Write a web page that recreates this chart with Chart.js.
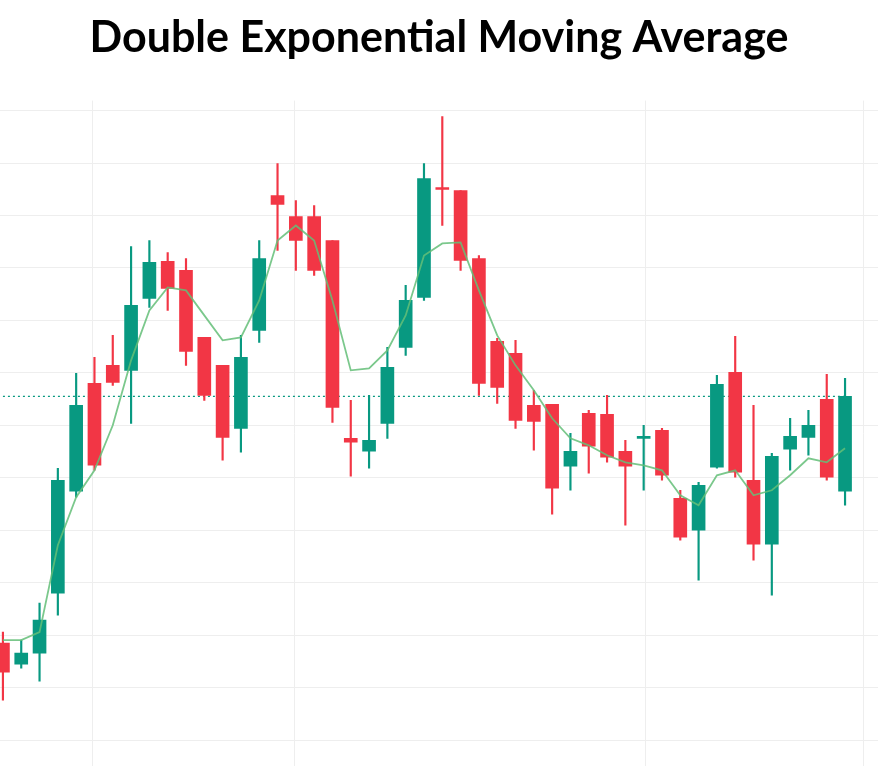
<!DOCTYPE html>
<html><head><meta charset="utf-8">
<script src="https://cdn.jsdelivr.net/npm/chart.js@4/dist/chart.umd.min.js"></script>
<style>html,body{margin:0;padding:0;background:#fff}canvas{display:block}</style>
</head><body>
<canvas id="c" width="878" height="766"></canvas>
<script>
const openP  = [15.7,13.6,14.7,20.7,30.9,41.7,43.5,43.0,50.2,53.9,53.0,46.3,43.5,37.2,47.0,60.5,58.4,58.4,56.0,36.2,34.9,37.7,45.3,50.3,61.3,61.0,54.2,45.9,44.7,39.5,39.6,33.4,38.7,38.6,34.9,36.2,37.0,30.2,27.0,33.3,42.8,32.0,25.6,35.1,36.3,40.1,30.9];
const highP  = [16.8,16.0,19.7,33.2,42.7,44.3,46.5,55.4,56.0,54.8,54.2,46.3,43.5,46.5,56.0,63.7,60.0,59.5,56.0,40.0,40.5,45.3,51.5,63.7,68.4,61.0,54.5,46.2,46.0,41.0,39.6,36.7,39.0,40.5,36.0,37.5,37.2,31.0,31.8,42.5,46.4,39.5,34.7,38.2,39.0,42.6,42.2];
const lowP   = [10.0,13.2,11.9,18.5,30.3,33.0,41.5,37.7,49.3,49.0,43.5,40.0,34.0,34.8,45.8,55.0,53.0,52.5,37.8,32.4,33.2,36.2,44.5,50.0,57.5,53.0,40.5,39.7,37.2,35.0,28.6,31.0,32.7,33.8,27.5,31.0,32.0,26.0,22.0,33.2,32.3,24.0,20.5,33.0,34.5,32.0,29.5];
const closeP = [12.8,14.7,18.0,32.0,39.5,33.5,41.8,49.5,53.8,51.2,44.9,40.5,36.3,44.3,54.2,59.6,56.0,53.0,39.3,35.8,36.0,43.3,50.0,62.2,61.1,54.0,41.7,41.3,38.0,37.9,31.2,34.9,35.4,34.3,33.4,36.4,32.5,26.3,31.5,41.6,32.8,25.6,34.4,36.4,37.5,32.3,40.4];
const demaP  = [16.0,16.0,16.8,25.5,30.3,33.0,37.5,44.0,49.0,51.3,51.0,48.5,46.0,46.3,50.0,56.0,57.5,56.0,50.0,43.0,43.2,45.0,48.5,54.5,55.7,55.8,51.0,46.5,43.5,41.0,38.2,36.2,35.5,34.5,33.8,33.5,33.0,30.5,29.5,32.5,33.0,30.5,31.0,32.5,34.2,33.8,35.2];
const lastPrice = 40.4;
const vGridAt = [4.9,15.95,35.1,47];
const GREEN='#089981', RED='#F23645';
const cols = openP.map((o,i)=> closeP[i]>=o?GREEN:RED);
const idx = openP.map((_,i)=>i);
new Chart(document.getElementById('c'),{
  data:{datasets:[
    {type:'line',data:idx.map(i=>({x:i,y:lastPrice})),borderColor:GREEN,borderWidth:1.2,borderDash:[2,3],pointRadius:0,order:3},
    {type:'bar',data:idx.map(i=>({x:i,y:[lowP[i],highP[i]]})),backgroundColor:cols,barThickness:1.5,grouped:false,order:2},
    {type:'bar',data:idx.map(i=>({x:i,y:[openP[i],closeP[i]]})),backgroundColor:cols,barThickness:13,minBarLength:2,grouped:false,order:1},
    {type:'line',data:idx.map(i=>({x:i,y:demaP[i]})),borderColor:'rgba(100,190,120,0.85)',borderWidth:1.8,pointRadius:0,tension:0,order:0}
  ]},
  options:{responsive:false,animation:false,
    layout:{padding:{left:0,right:0,top:0,bottom:0}},
    plugins:{legend:{display:false},tooltip:{enabled:false},
      title:{display:true,text:'Double Exponential Moving Average',color:'#000',font:{family:'Lato',size:43,weight:'bold'},padding:{top:12,bottom:37}}},
    scales:{
      x:{type:'linear',min:-0.16,max:47.8,offset:false,
        afterBuildTicks:a=>{a.ticks=vGridAt.map(v=>({value:v}));},
        ticks:{display:false,autoSkip:false},grid:{color:'#eeeeee',drawTicks:false,offset:false},border:{display:false}},
      y:{min:3.4,max:70,
        afterBuildTicks:a=>{const t=[];for(let k=0;k<13;k++)t.push({value:6+5.25*k});a.ticks=t;},
        ticks:{display:false},grid:{color:'#eeeeee',drawTicks:false},border:{display:false}}
    }}
});
</script></body></html>
